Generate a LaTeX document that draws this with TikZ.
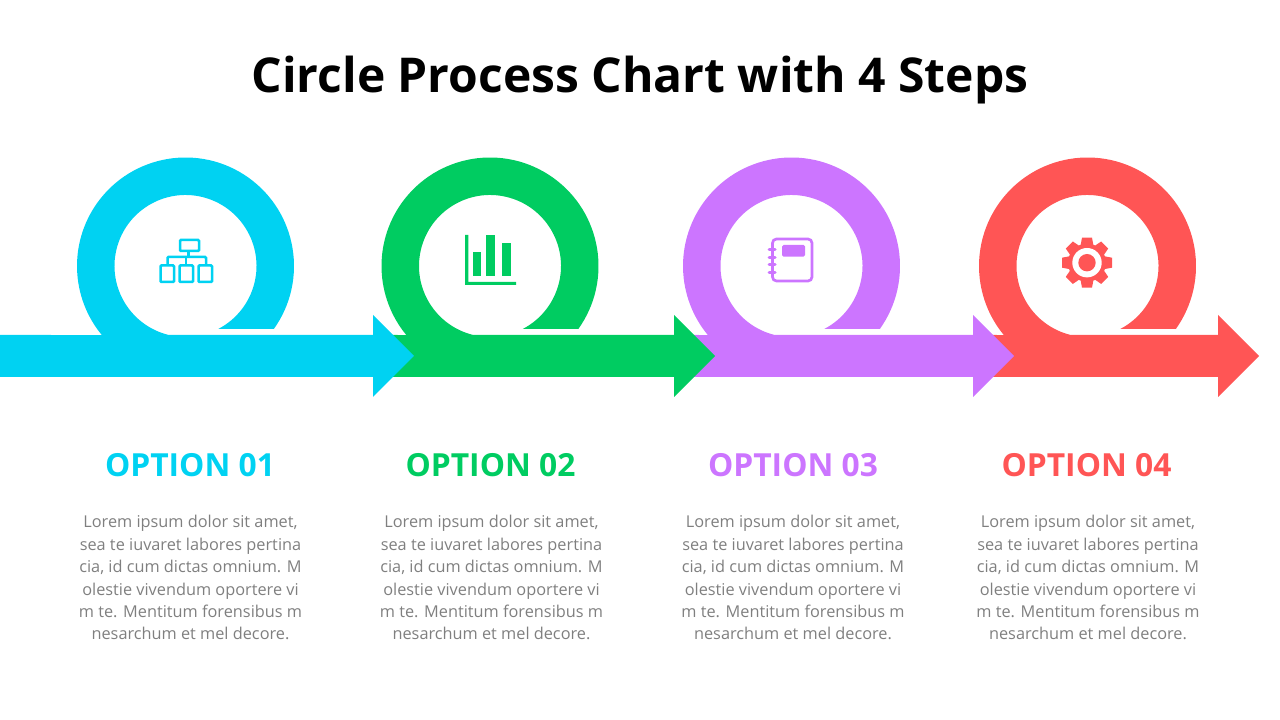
\documentclass[tikz,border=0pt]{standalone}
\usepackage{fontspec}
\setmainfont{Open Sans}
\usetikzlibrary{arrows.meta, calc}

\definecolor{stepBlue}{RGB}{0,210,242}
\definecolor{stepGreen}{RGB}{0,204,97}
\definecolor{stepPurple}{RGB}{204,117,255}
\definecolor{stepRed}{RGB}{255,85,85}
\definecolor{bodyGrey}{RGB}{127,127,127}

\tikzset{
  titleText/.style={font=\fontsize{48}{52}\selectfont\bfseries, text=black},
  optionText/.style={font=\fontsize{31.8}{36}\selectfont\bfseries},
  bodyText/.style={font=\fontsize{16.3}{22.4}\selectfont, text=bodyGrey, align=center},
  iconLine/.style={line width=2.5pt, rounded corners=1pt},
}

% Icons, drawn around the centre of the circle
\newcommand{\iconTree}{
  \draw[iconLine] (-5.5,27) rectangle (13.5,16);
  \draw[iconLine] (-25,1.5) rectangle (-11.5,-15);
  \draw[iconLine] (-6,1.5) rectangle (7.5,-15);
  \draw[iconLine] (13,1.5) rectangle (26.5,-15);
  \draw[iconLine] (-18,1.5) -- (-18,10) -- (20.5,10) -- (20.5,1.5);
  \draw[line width=2.5pt] (0.5,10) -- (0.5,1.5);
  \draw[line width=2.5pt] (3,16) -- (3,10);
}
\newcommand{\iconBars}{
  \fill (-25,32) -- (-21.7,32) -- (-21.7,-15) -- (26,-15) -- (26,-18) -- (-25,-18) -- cycle;
  \fill (-17.3,15.3) rectangle (-9,-8.7);
  \fill (-4,32) rectangle (4.7,-8.7);
  \fill (12,24) rectangle (21,-8.7);
}
\newcommand{\iconBook}{
  \draw[line width=2.7pt, rounded corners=4pt] (-19,28) rectangle (20.5,-14);
  \fill[rounded corners=1.5pt] (-9.5,22) rectangle (13.5,10.3);
  \foreach \ringY in {17,9.7,2,-5.7}
    \draw[line width=3pt, line cap=round] (-22.5,\ringY) -- (-16.5,\ringY);
}
\newcommand{\iconGear}{
  \begin{scope}[shift={(-0.5,4.3)}]
    \foreach \toothAngle in {0,45,...,315}
      \fill[rotate=\toothAngle] (17,-6.5) -- (25,-5) -- (25,5) -- (17,6.5) -- cycle;
    \fill (0,0) circle (19);
    \fill[white] (0,0) circle (14.7);
    \fill (0,0) circle (8.7);
  \end{scope}
}

\newcommand{\loremText}{Lorem ipsum dolor sit amet,\\ sea te iuvaret labores pertina\\ cia, id cum dictas omnium. M\\ olestie vivendum oportere vi\\ m te. Mentitum forensibus m\\ nesarchum et mel decore.}

\begin{document}
\begin{tikzpicture}[x=1pt, y=1pt]
\useasboundingbox (0,0) rectangle (1280,720);
% Circle radii and the height of the circle centres
\pgfmathsetmacro{\Ro}{108.5}
\pgfmathsetmacro{\Ri}{71}
\pgfmathsetmacro{\Cy}{454}

\node[titleText] (title) at (640,640) {Circle Process Chart with 4 Steps};

% Last step first, so that each arrow head lies over the next step
\foreach \n/\cx/\tipx/\basex/\startx/\col/\icon/\optx/\bodyx in {
  4/1087.5/1259/1218/990/stepRed/iconGear/1086.5/1088,
  3/791.5/1014/973/690/stepPurple/iconBook/793/793,
  2/490/715/674/389/stepGreen/iconBars/490.5/491.5,
  1/185.5/414/373/0/stepBlue/iconTree/190/190.5}
{
  % Arrow and ring as one outline
  \fill[\col] (\startx,343) -- (\basex,343) -- (\basex,323) -- (\tipx,364) -- (\basex,405) -- (\basex,385)
    -- ({\cx+\Ri*cos(256.4)},385) arc[start angle=256.4, end angle=-62.5, radius=\Ri]
    -- ({\cx+\Ro*cos(-35.5)},{\Cy+\Ro*sin(-35.5)}) arc[start angle=-35.5, end angle=219.5, radius=\Ro]
    -- (\startx,385) -- cycle;
  \begin{scope}[shift={(\cx,453)}, color=\col]
    \csname\icon\endcsname
  \end{scope}
  \node[optionText, text=\col] (option\n) at (\optx,255) {OPTION 0\n};
  \node[bodyText, below=0pt] (text\n) at (\bodyx,208) {\loremText};
}
\end{tikzpicture}
\end{document}
